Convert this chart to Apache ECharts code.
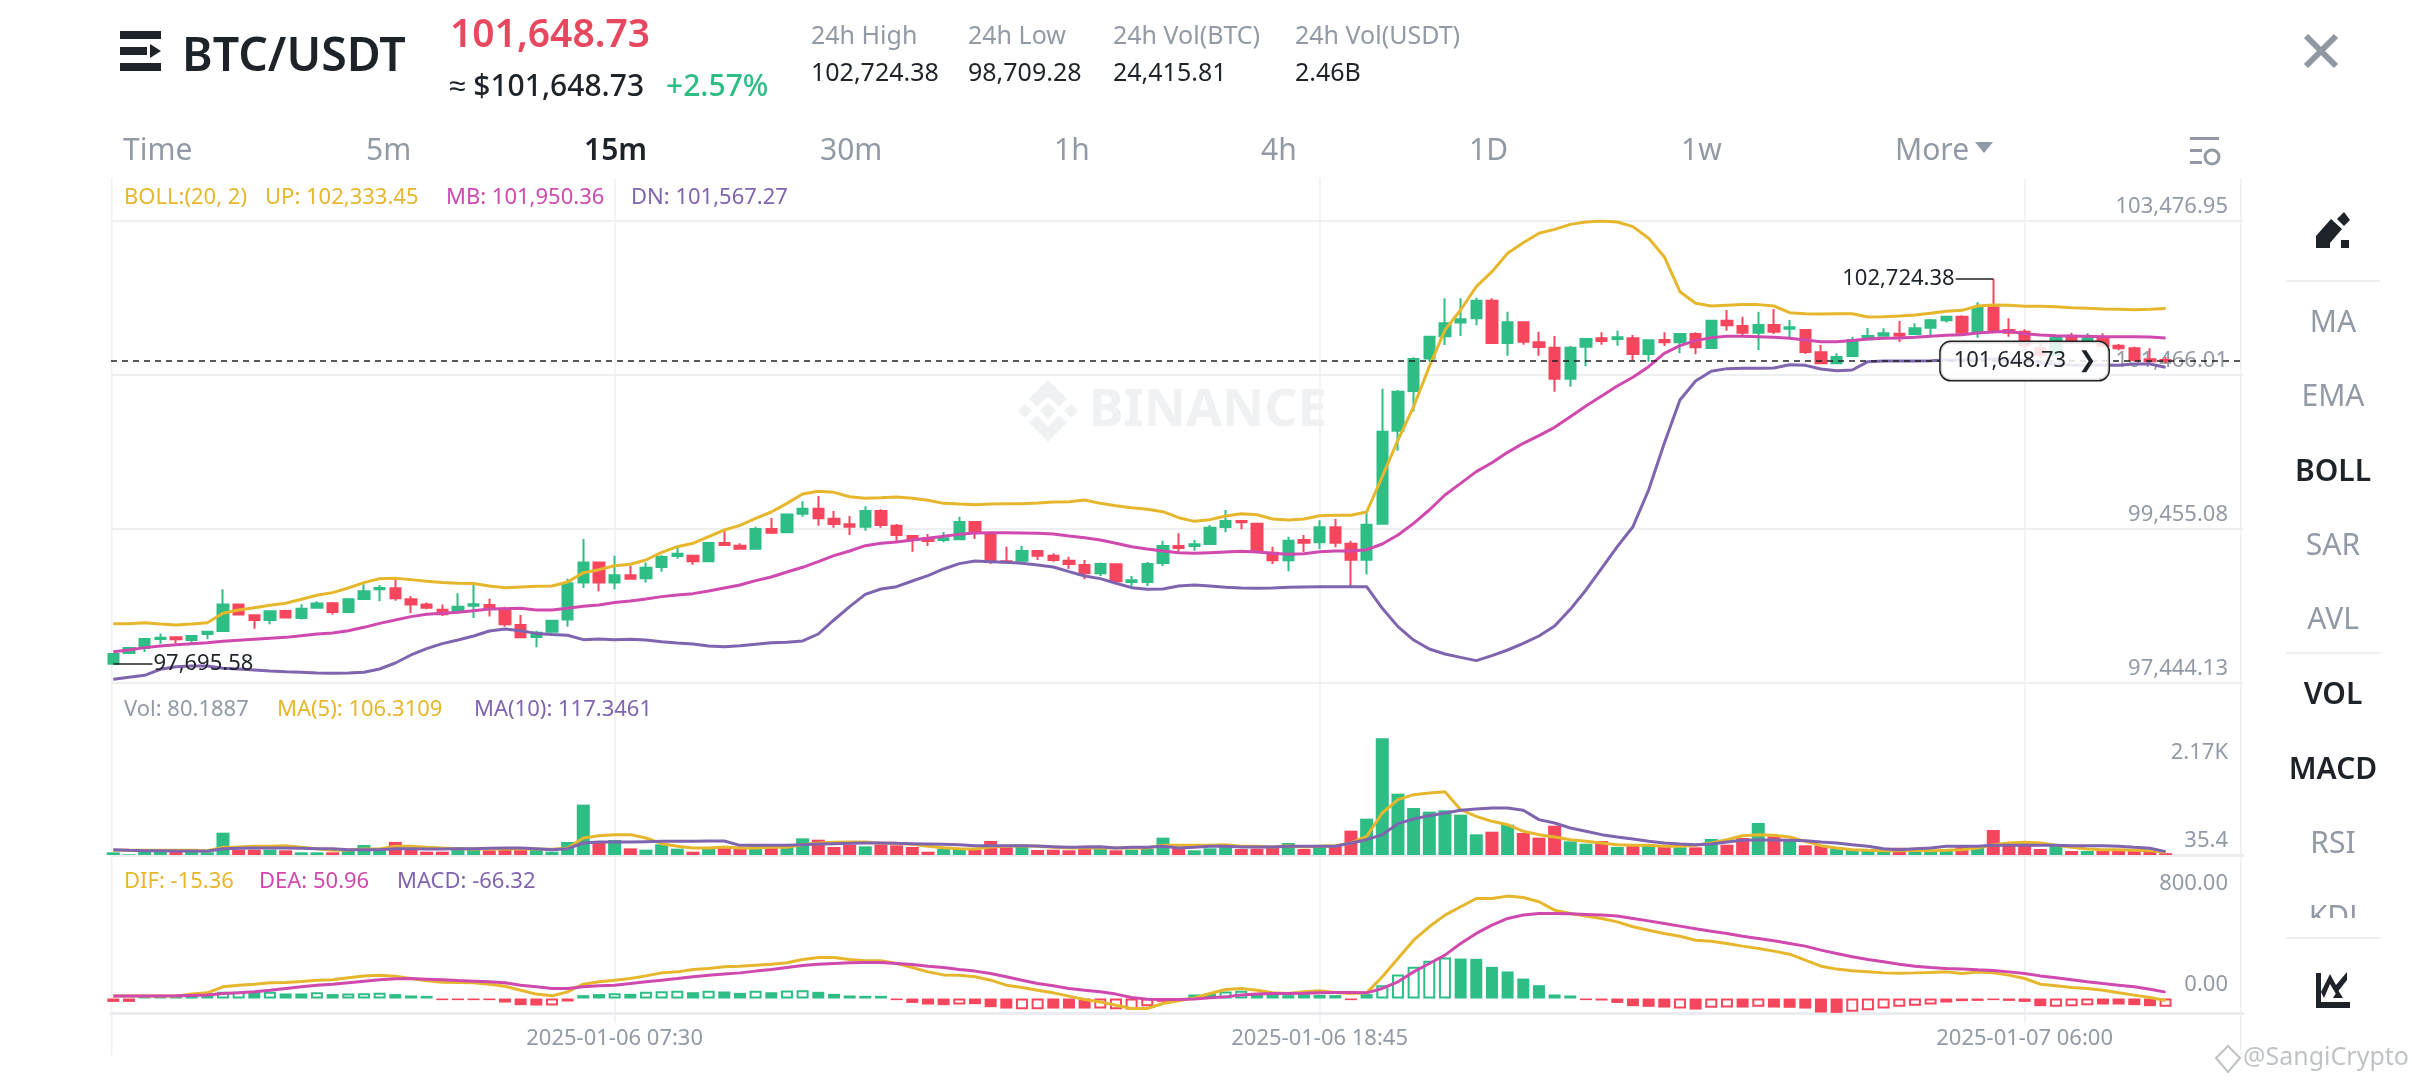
<!DOCTYPE html>
<html lang="en">
<head>
<meta charset="UTF-8">
<title>BTC/USDT 15m</title>
<script src="https://cdn.jsdelivr.net/npm/echarts@6/dist/echarts.min.js"></script>
<style>
html,body{margin:0;padding:0;background:#fff}
#chart{width:2412px;height:1080px}
</style>
</head>
<body>
<div id="chart"></div>
<script>
// candles
var opens = [97696,97836,97901,98019,98040,98005,98084,98123,98468,98328,
98267,98385,98293,98428,98485,98372,98541,98668,98681,98537,
98468,98402,98372,98454,98463,98415,98201,98045,98114,98272,
98755,99016,98755,98850,98811,98959,99103,99107,99033,99272,
99237,99198,99455,99411,99655,99720,99590,99516,99485,99690,
99499,99364,99333,99312,99320,99547,99381,99033,99042,99168,
99107,99042,98985,98876,98994,98763,98763,99011,99233,99233,
99259,99481,99560,99525,99146,99046,99312,99281,99477,99264,
99055,99525,100739,101257,101680,101971,102150,102206,102437,101884,
102154,101893,101823,101418,101836,101945,101936,101945,101740,101923,
101893,102002,101819,102176,102106,102019,102119,102071,102054,101762,
101618,101714,101932,101980,102006,102002,102084,102180,102228,102028,
102350,102054,102032,101814,101727,101980,101901,101945,101849,101814,
101671,101662];
var closes = [97823,97901,98019,98036,98014,98058,98114,98468,98337,98267,
98381,98298,98415,98481,98372,98537,98642,98685,98550,98468,
98428,98341,98441,98472,98419,98210,98040,98101,98258,98746,
99016,98755,98850,98807,98950,99090,99133,99033,99272,99246,
99198,99455,99407,99646,99720,99594,99520,99485,99690,99507,
99377,99312,99299,99333,99547,99407,99042,99016,99168,99107,
99050,98998,98876,98998,98772,98785,98998,99233,99207,99255,
99472,99560,99542,99159,99046,99303,99277,99477,99277,99055,
99512,100726,101248,101676,101967,102141,102193,102437,101884,102154,
101901,101832,101418,101823,101936,101910,101958,101740,101919,101893,
102002,101827,102176,102115,102019,102119,102032,102089,101766,101618,
101701,101923,101975,102010,101980,102076,102180,102228,102019,102350,
102054,102019,101858,101727,101967,101901,101945,101849,101814,101662,
101645,101648.73];
var lows = [97695.58,97831,97849,97958,97962,97971,98014,98123,98328,98154,
98210,98293,98272,98424,98337,98372,98537,98511,98519,98354,
98406,98319,98363,98293,98311,98180,98027,97910,98114,98180,
98685,98642,98668,98798,98755,98898,99068,98989,99033,99242,
99190,99198,99390,99411,99616,99499,99472,99377,99433,99472,
99290,99159,99233,99281,99312,99324,98998,99016,99033,99050,
99029,98933,98798,98841,98755,98694,98711,98972,99159,99172,
99255,99411,99451,99146,98998,98902,99155,99194,99216,98702,
98863,99525,100478,100991,101636,101858,101975,102115,101871,101719,
101862,101719,101248,101314,101579,101862,101849,101662,101640,101845,
101749,101736,101810,102045,101980,101793,102002,101958,101740,101605,
101605,101705,101923,101971,101897,101993,101980,102150,101993,101954,
102045,101967,101793,101684,101705,101871,101880,101836,101788,101640,
101627,101618];
var highs = [97823,97910,98027,98092,98053,98062,98123,98668,98481,98332,
98385,98402,98472,98511,98502,98537,98732,98724,98820,98580,
98494,98468,98615,98759,98545,98441,98332,98127,98258,98807,
99324,99016,99107,98972,99016,99111,99224,99107,99272,99433,
99268,99485,99598,99646,99817,99886,99690,99625,99751,99712,
99520,99368,99390,99416,99616,99555,99399,99224,99237,99168,
99137,99094,99050,99016,98994,98841,99024,99303,99399,99312,
99507,99703,99560,99525,99224,99355,99377,99568,99586,99303,
99660,101287,101270,101697,101975,102467,102467,102476,102467,102293,
102154,102032,101975,101845,101936,102023,102045,101988,101919,102023,
102002,102023,102176,102315,102228,102293,102328,102184,102062,101858,
101749,101967,102080,102076,102171,102141,102197,102228,102245,102415,
102724.38,102206,102062,101901,101975,102019,102010,102010,101871,101836,
101814,101705];

// bollinger bands
var bollUp = [98219,98219,98232,98215,98201,98215,98232,98354,98398,98428,
98458,98485,98537,98589,98624,98685,98755,98807,98811,98794,
98772,98755,98746,98742,98711,98689,98698,98707,98711,98763,
98885,98924,98976,98994,99050,99150,99224,99268,99355,99442,
99503,99594,99677,99790,99912,99947,99934,99877,99856,99864,
99873,99856,99830,99790,99781,99773,99781,99786,99786,99795,
99808,99812,99834,99790,99760,99733,99712,99681,99603,99555,
99577,99625,99655,99642,99586,99573,99586,99629,99634,99634,
99677,100139,100617,101053,101575,102054,102315,102620,102815,103055,
103194,103316,103368,103433,103464,103477,103464,103403,103251,103011,
102554,102402,102367,102376,102385,102385,102367,102280,102267,102263,
102267,102267,102223,102228,102236,102250,102271,102297,102310,102367,
102380,102376,102363,102363,102358,102345,102337,102328,102324,102319,
102324,102333.45];
var bollMid = [97853,97875,97906,97927,97945,97958,97971,97988,98001,98014,
98027,98040,98062,98084,98097,98127,98171,98223,98267,98311,
98341,98354,98367,98389,98411,98415,98419,98398,98398,98419,
98445,98463,98494,98515,98541,98572,98593,98611,98646,98685,
98724,98781,98828,98894,98955,99029,99107,99168,99237,99268,
99285,99312,99333,99359,99385,99403,99407,99407,99403,99399,
99390,99364,99342,99312,99268,99224,99194,99168,99146,99137,
99146,99155,99163,99155,99137,99124,99133,99159,99168,99168,
99185,99259,99377,99529,99703,99899,100051,100204,100321,100456,
100574,100674,100783,100922,101061,101192,101322,101436,101575,101749,
101849,101915,101954,101971,101971,101967,101958,101945,101923,101901,
101901,101915,101936,101945,101949,101958,101971,101984,101993,102015,
102028,102036,102006,101988,101980,101975,101971,101967,101967,101967,
101962,101950.36];
var bollDn = [97492,97518,97544,97623,97657,97666,97666,97636,97627,97614,
97601,97592,97584,97575,97570,97575,97584,97627,97705,97810,
97893,97958,98005,98058,98123,98149,98127,98092,98079,98067,
98010,98019,98010,98014,98005,97984,97966,97953,97927,97918,
97932,97949,97971,97975,97993,98084,98267,98441,98602,98672,
98702,98776,98846,98933,99003,99037,99029,99020,99007,98985,
98959,98898,98841,98807,98746,98689,98668,98672,98711,98724,
98711,98694,98685,98681,98685,98694,98698,98702,98702,98702,
98702,98419,98180,98005,97888,97823,97779,97736,97801,97875,
97962,98058,98188,98406,98659,98942,99224,99485,99964,100574,
101140,101388,101514,101549,101553,101553,101558,101601,101592,101544,
101523,101531,101640,101649,101649,101649,101653,101662,101666,101671,
101675,101675,101662,101627,101605,101597,101592,101597,101592,101610,
101610,101567.27];

// volume panel
var vols = [100,52,116,132,116,116,100,577,165,165,
165,149,100,100,100,141,278,141,351,165,
116,116,229,165,149,165,181,157,116,351,
1257,375,399,197,165,294,189,116,189,246,
189,270,205,229,440,407,229,286,246,286,
270,229,116,189,189,165,375,221,229,157,
165,149,262,189,149,165,181,456,189,149,
197,246,181,189,205,327,181,221,262,626,
917,2866,1523,1176,1087,1119,1014,537,601,771,
569,456,747,367,310,375,229,286,270,270,
221,221,424,286,448,812,488,424,270,270,
197,165,132,132,213,149,132,132,262,270,
642,327,327,181,270,132,132,157,149,141,
149,80.19];
var volMa5 = [149,149,149,149,149,149,141,221,229,246,
246,262,221,189,149,157,181,181,246,246,
221,205,189,181,181,181,181,181,173,205,
448,504,529,529,448,310,246,205,205,229,
205,205,221,221,286,327,343,351,351,318,
318,294,246,213,189,181,229,246,262,246,
221,205,205,205,205,205,205,270,270,270,
270,286,246,246,229,262,229,246,262,327,
488,1054,1378,1499,1540,1572,1135,973,852,771,
610,529,472,407,367,327,286,270,270,246,
246,270,327,407,504,529,513,472,367,262,
205,165,149,141,141,149,141,149,165,205,
286,327,343,327,270,221,181,165,165,149,
141,106.31];
var volMa10 = [165,149,141,141,132,132,124,189,197,205,
205,205,197,189,189,165,165,165,189,189,
181,181,189,189,197,205,205,189,165,189,
327,351,351,351,359,367,367,367,375,375,
270,270,270,270,286,302,310,318,327,327,
318,310,302,294,286,262,262,262,262,254,
238,221,229,238,205,221,221,246,205,221,
246,246,229,229,229,246,246,246,246,327,
407,529,796,909,990,1054,1119,1151,1176,1176,
1119,893,812,691,610,529,472,424,367,327,
302,286,302,351,391,399,399,391,383,351,
327,286,246,189,165,189,205,246,246,246,
270,270,270,270,270,262,262,262,246,221,
197,117.35];

// macd panel
var dif = [19,19,19,19,19,35,45,93,106,114,
125,127,135,146,149,165,180,186,178,159,
141,130,127,125,114,98,66,35,21,53,
114,133,146,159,180,204,212,231,239,252,
257,265,273,284,311,326,326,311,300,300,
279,247,212,188,186,173,146,106,88,66,
45,19,-8,-27,-53,-80,-80,-40,-19,5,
40,72,80,66,45,40,53,61,48,40,
45,173,318,464,571,664,730,796,796,815,
804,770,703,677,656,637,610,571,544,518,
496,464,456,438,417,398,377,353,305,257,
234,220,212,204,202,204,207,212,199,210,
204,186,159,114,101,88,80,66,45,27,
8,-15.36];
var dea = [19,19,19,19,21,24,27,40,45,53,
66,80,93,106,114,125,138,149,157,159,
154,149,143,138,133,125,106,93,80,80,
93,101,106,119,133,146,159,173,186,196,
204,218,231,247,263,273,279,284,287,287,
279,271,257,247,231,218,199,173,146,119,
101,80,66,53,35,8,-5,-8,-8,-3,
5,13,27,35,40,40,42,45,48,48,
45,80,133,212,279,345,438,518,584,637,
664,677,677,674,669,664,656,637,618,597,
576,555,536,518,496,478,459,438,417,385,
358,332,311,292,273,257,247,239,234,228,
223,212,199,180,165,149,133,119,106,93,
74,50.96];
var macdHist = [-27,-27,27,27,27,27,27,53,53,53,
53,40,40,50,35,40,42,45,35,24,
21,-13,-13,-13,-13,-32,-53,-56,-56,-24,
27,35,42,37,53,58,61,50,61,56,
45,61,50,64,66,53,37,24,21,21,
-13,-35,-48,-53,-48,-45,-69,-80,-85,-85,
-80,-80,-80,-80,-85,-88,-61,-27,-21,32,
40,56,61,40,35,27,35,29,27,-13,
35,106,191,252,300,326,318,316,252,215,
159,106,32,24,-13,-16,-35,-61,-66,-72,
-80,-88,-74,-72,-72,-66,-72,-74,-80,-111,
-114,-106,-93,-80,-66,-58,-48,-32,-21,-19,
-13,-19,-27,-61,-66,-61,-53,-48,-48,-53,
-61,-66.32];
var hollowBars = [7,8,10,13,15,16,17,28,32,34,35,36,38,41,43,44,54,58,59,63,64,65,66,71,72,
81,82,83,84,85,100,102,103,105,111,112,113,114,115,116,117,118,124,125,126,131];

// ticks
var priceTicks = [97444.13, 99455.08, 101466.01, 103476.95];
var volTicks = [35.4, 2170];
var volTickLabels = ['35.4', '2.17K'];
var macdTicks = [0, 800];
var timeTickIndex = [32, 77, 122];
var timeTickLabels = ['2025-01-06 07:30', '2025-01-06 18:45', '2025-01-07 06:00'];
var lastPrice = 101648.73;
var highPrice = 102724.38;
var lowPrice = 97695.58;

var GREEN = '#2EBD85', RED = '#F6465D', YELLOW = '#E6B72C', PINK = '#CF49AE', PURPLE = '#7F64AF';
var GRID = '#EEEFF1', GREY = '#929AA5', DARK = '#1E2329';
var FONT = '"Noto Sans", sans-serif';
var X_MIN = -0.147, X_MAX = 135.94;

function fmt(v) {
    return v.toLocaleString('en-US', {minimumFractionDigits: 2, maximumFractionDigits: 2});
}
function pairs(arr) {
    return arr.map(function (v, i) { return [i, v]; });
}
function lineSeries(name, arr, color, idx, width) {
    return {
        name: name, type: 'line', data: pairs(arr), xAxisIndex: idx, yAxisIndex: idx,
        showSymbol: false, smooth: false, lineStyle: {color: color, width: width},
        itemStyle: {color: color}, silent: true
    };
}
function rightAxis(idx, min, max, ticks, formatter, splitShow) {
    return {
        type: 'value', gridIndex: idx, position: 'right', min: min, max: max, scale: true,
        axisLine: {show: false},
        axisTick: {show: false, customValues: ticks},
        splitLine: {show: splitShow, lineStyle: {color: GRID, width: 2}},
        axisLabel: {
            inside: true, margin: 15, customValues: ticks, formatter: formatter,
            color: GREY, fontFamily: FONT, fontSize: 22, verticalAlign: 'bottom', lineHeight: 22, padding: [0, 0, 3, 0]
        }
    };
}
function bottomAxis(idx, lineShow) {
    return {
        type: 'value', gridIndex: idx, min: X_MIN, max: X_MAX,
        axisLine: {show: lineShow, onZero: false, lineStyle: {color: '#EAECEF', width: 3}},
        axisTick: {show: false}, axisLabel: {show: false}, splitLine: {show: false}
    };
}

var candleData = opens.map(function (o, i) { return [i, o, closes[i], lows[i], highs[i]]; });
var volData = vols.map(function (v, i) {
    return {value: [i, v], itemStyle: {color: closes[i] >= opens[i] ? GREEN : RED}};
});
var histData = macdHist.map(function (v, i) {
    var c = v >= 0 ? GREEN : RED;
    var hollow = hollowBars.indexOf(i) >= 0;
    return {
        value: [i, v],
        itemStyle: hollow ? {color: '#fff', borderColor: c, borderWidth: 2} : {color: c}
    };
});

// text outside the plot
var texts = [
    ['BTC/USDT', 182, 58, 46.5, DARK, 600],
    ['101,648.73', 450, 36, 39, '#E8485F', 600],
    ['≈ $101,648.73', 449, 87, 30, DARK, 500],
    ['+2.57%', 666, 87, 30, GREEN, 500],
    ['24h High', 811, 37, 25, GREY, 400],
    ['102,724.38', 811, 74, 25, DARK, 400],
    ['24h Low', 968, 37, 25, GREY, 400],
    ['98,709.28', 968, 74, 25, DARK, 400],
    ['24h Vol(BTC)', 1113, 37, 25, GREY, 400],
    ['24,415.81', 1113, 74, 25, DARK, 400],
    ['24h Vol(USDT)', 1295, 37, 25, GREY, 400],
    ['2.46B', 1295, 74, 25, DARK, 400],
    ['Time', 123, 151, 30, GREY, 400],
    ['5m', 366, 151, 30, GREY, 400],
    ['15m', 584, 151, 30, DARK, 600],
    ['30m', 820, 151, 30, GREY, 400],
    ['1h', 1054, 151, 30, GREY, 400],
    ['4h', 1261, 151, 30, GREY, 400],
    ['1D', 1469, 151, 30, GREY, 400],
    ['1w', 1681, 151, 30, GREY, 400],
    ['More', 1895, 151, 30, GREY, 400],
    ['BOLL:(20, 2)', 124, 198, 22, YELLOW, 400],
    ['UP: 102,333.45', 265, 198, 22, YELLOW, 400],
    ['MB: 101,950.36', 446, 198, 22, PINK, 400],
    ['DN: 101,567.27', 631, 198, 22, PURPLE, 400],
    ['Vol: 80.1887', 124, 710, 22, GREY, 400],
    ['MA(5): 106.3109', 277, 710, 22, YELLOW, 400],
    ['MA(10): 117.3461', 474, 710, 22, PURPLE, 400],
    ['DIF: -15.36', 124, 882, 22, YELLOW, 400],
    ['DEA: 50.96', 259, 882, 22, PINK, 400],
    ['MACD: -66.32', 397, 882, 22, PURPLE, 400]
];
var sideTexts = [
    ['MA', 323, GREY, 400], ['EMA', 397, GREY, 400], ['BOLL', 472, DARK, 600], ['SAR', 546, GREY, 400],
    ['AVL', 620, GREY, 400], ['VOL', 695, DARK, 600], ['MACD', 770, DARK, 600], ['RSI', 844, GREY, 400],
    ['KDJ', 918, GREY, 400]
];

var graphics = [];
function poly(points, fill, z) {
    graphics.push({type: 'polygon', z: z || 1, silent: true, shape: {points: points}, style: {fill: fill}});
}
function rect(x, y, w, h, fill, z) {
    graphics.push({type: 'rect', z: z || 1, silent: true, shape: {x: x, y: y, width: w, height: h}, style: {fill: fill}});
}
texts.forEach(function (t) {
    graphics.push({type: 'text', z: 5, silent: true, x: t[1], y: t[2], style: {
        text: t[0], fontSize: t[3], fill: t[4], fontWeight: t[5], fontFamily: FONT, verticalAlign: 'middle', align: 'left'
    }});
});
sideTexts.forEach(function (t) {
    graphics.push({type: 'text', z: 5, silent: true, x: 2333, y: t[1], style: {
        text: t[0], fontSize: 30, fill: t[2], fontWeight: t[3], fontFamily: FONT, verticalAlign: 'middle', align: 'center'
    }});
});
// KDJ is cut off by the scroll area
rect(2280, 918, 110, 18, '#fff', 6);

// watermark behind the plot
graphics.push({type: 'text', z: 0, silent: true, x: 1089, y: 411, style: {
    text: 'BINANCE', fontSize: 52, fontWeight: 700, fill: '#EFF1F2', fontFamily: FONT, verticalAlign: 'middle', align: 'left'
}});
poly([[1048,380],[1067,399],[1059,407],[1048,396],[1037,407],[1029,399]], '#EFF1F2', 0);
poly([[1048,442],[1067,423],[1059,415],[1048,426],[1037,415],[1029,423]], '#EFF1F2', 0);
poly([[1048,403],[1056,411],[1048,419],[1040,411]], '#EFF1F2', 0);
poly([[1025,404],[1032,411],[1025,418],[1018,411]], '#EFF1F2', 0);
poly([[1071,404],[1078,411],[1071,418],[1064,411]], '#EFF1F2', 0);

graphics.push({type: 'text', z: 7, silent: true, x: 2243, y: 1058, style: {
    text: '@SangiCrypto', fontSize: 25, fill: 'rgba(150,155,160,0.6)', fontFamily: FONT, verticalAlign: 'middle', align: 'left'
}});
graphics.push({type: 'polygon', z: 7, silent: true, shape: {points: [[2228,1046],[2240,1058],[2228,1072],[2216,1058]]},
    style: {fill: 'none', stroke: 'rgba(150,155,160,0.6)', lineWidth: 2}});

// logo
rect(120, 31, 41, 8, DARK);
rect(120, 47, 27, 8, DARK);
poly([[150,44],[161,51],[150,58]], DARK);
rect(120, 63, 41, 8, DARK);
// close button
graphics.push({type: 'line', silent: true, shape: {x1: 2306, y1: 36, x2: 2336, y2: 66}, style: {stroke: '#8F98A3', lineWidth: 6}});
graphics.push({type: 'line', silent: true, shape: {x1: 2336, y1: 36, x2: 2306, y2: 66}, style: {stroke: '#8F98A3', lineWidth: 6}});
// "More" arrow and settings icon
poly([[1975,142],[1993,142],[1984,153]], GREY);
rect(2190, 137, 29, 3, GREY);
rect(2190, 149, 12, 3, GREY);
rect(2190, 161, 12, 3, GREY);
graphics.push({type: 'circle', silent: true, shape: {cx: 2212, cy: 157, r: 7}, style: {fill: '#fff', stroke: GREY, lineWidth: 3}});
// pen icon
poly([[2316,248],[2316,236],[2331,219],[2342,229],[2330,243],[2330,248]], DARK);
poly([[2337,219],[2344,212],[2350,220],[2344,226]], DARK);
rect(2341, 240, 8, 8, DARK);
// chart icon
rect(2316, 973, 5, 34, DARK);
rect(2316, 1002, 34, 6, DARK);
poly([[2321,992],[2330,974],[2336,985],[2347,972],[2347,980],[2336,994],[2330,984],[2324,998]], DARK);
poly([[2333,998],[2338,990],[2343,998]], DARK);
// side separators
rect(2286, 280, 94, 2, '#EEEFF1');
rect(2286, 652, 94, 2, '#EEEFF1');
rect(2286, 937, 94, 2, '#EEEFF1');
// panel borders
rect(111, 178, 1.5, 877, GRID);
rect(2240, 178, 1.5, 877, GRID);

var option = {
    animation: false,
    backgroundColor: '#fff',
    textStyle: {fontFamily: FONT},
    graphic: graphics,
    grid: [
        {left: 111, right: 169, top: 221, height: 462},
        {left: 111, right: 169, top: 725, height: 130},
        {left: 111, right: 169, top: 865, height: 148},
        {left: 111, right: 169, top: 178, height: 845, z: 0}
    ],
    xAxis: [
        bottomAxis(0, false),
        bottomAxis(1, true),
        bottomAxis(2, true),
        {
            type: 'value', gridIndex: 3, min: X_MIN, max: X_MAX,
            axisLine: {show: false},
            axisTick: {show: false, customValues: timeTickIndex},
            splitLine: {show: true, lineStyle: {color: GRID, width: 1.5}},
            axisLabel: {
                customValues: timeTickIndex, margin: 5, color: GREY, fontFamily: FONT, fontSize: 22,
                formatter: function (v) { return timeTickLabels[timeTickIndex.indexOf(Math.round(v))]; }
            }
        }
    ],
    yAxis: [
        rightAxis(0, priceTicks[0], priceTicks[3], priceTicks, fmt, true),
        rightAxis(1, 35.4, 3189, volTicks, function (v) { return volTickLabels[volTicks.indexOf(v)]; }, false),
        rightAxis(2, -115.4, 1062.7, macdTicks, function (v) { return v.toFixed(2); }, false),
        {type: 'value', gridIndex: 3, min: 0, max: 1, show: false}
    ],
    series: [
        {
            name: 'BTC/USDT', type: 'candlestick', data: candleData, xAxisIndex: 0, yAxisIndex: 0,
            encode: {x: 0, y: [1, 2, 3, 4]}, barWidth: 11, silent: true,
            itemStyle: {color: GREEN, color0: RED, borderColor: GREEN, borderColor0: RED, borderWidth: 2},
            markLine: {
                silent: true, symbol: 'none', animation: false,
                data: [
                    {yAxis: lastPrice, label: {show: false}, lineStyle: {color: '#222', type: [6, 5], width: 1.5}},
                    [
                        {coord: [120, highPrice], lineStyle: {color: '#222', type: 'solid', width: 1.5},
                            label: {show: true, position: 'end', formatter: fmt(highPrice), color: DARK, fontSize: 22, fontFamily: FONT, distance: 1}},
                        {coord: [117.6, highPrice]}
                    ],
                    [
                        {coord: [0, lowPrice], lineStyle: {color: '#222', type: 'solid', width: 1.5},
                            label: {show: true, position: 'end', formatter: fmt(lowPrice), color: DARK, fontSize: 22, fontFamily: FONT, distance: 1}},
                        {coord: [2.5, lowPrice]}
                    ]
                ]
            },
            markPoint: {
                silent: true, symbol: 'rect', symbolSize: 0, animation: false,
                data: [{
                    coord: [122, lastPrice],
                    label: {
                        show: true, position: 'inside', formatter: fmt(lastPrice) + '  ❯',
                        color: DARK, fontSize: 22, lineHeight: 24, fontFamily: FONT, offset: [0, 0],
                        backgroundColor: 'rgba(255,255,255,0.85)', borderColor: '#222', borderWidth: 1.5, borderRadius: 10,
                        padding: [7, 13, 7, 13]
                    }
                }]
            }
        },
        lineSeries('UP', bollUp, YELLOW, 0, 3),
        lineSeries('MB', bollMid, PINK, 0, 3),
        lineSeries('DN', bollDn, PURPLE, 0, 3),
        {name: 'Vol', type: 'bar', data: volData, xAxisIndex: 1, yAxisIndex: 1, barWidth: 13, silent: true},
        lineSeries('MA(5)', volMa5, YELLOW, 1, 3),
        lineSeries('MA(10)', volMa10, PURPLE, 1, 3),
        {name: 'MACD', type: 'bar', data: histData, xAxisIndex: 2, yAxisIndex: 2, barWidth: 12, silent: true},
        lineSeries('DIF', dif, YELLOW, 2, 3),
        lineSeries('DEA', dea, PINK, 2, 3)
    ]
};

var chart = echarts.init(document.getElementById('chart'));
chart.setOption(option);
</script>
</body>
</html>
